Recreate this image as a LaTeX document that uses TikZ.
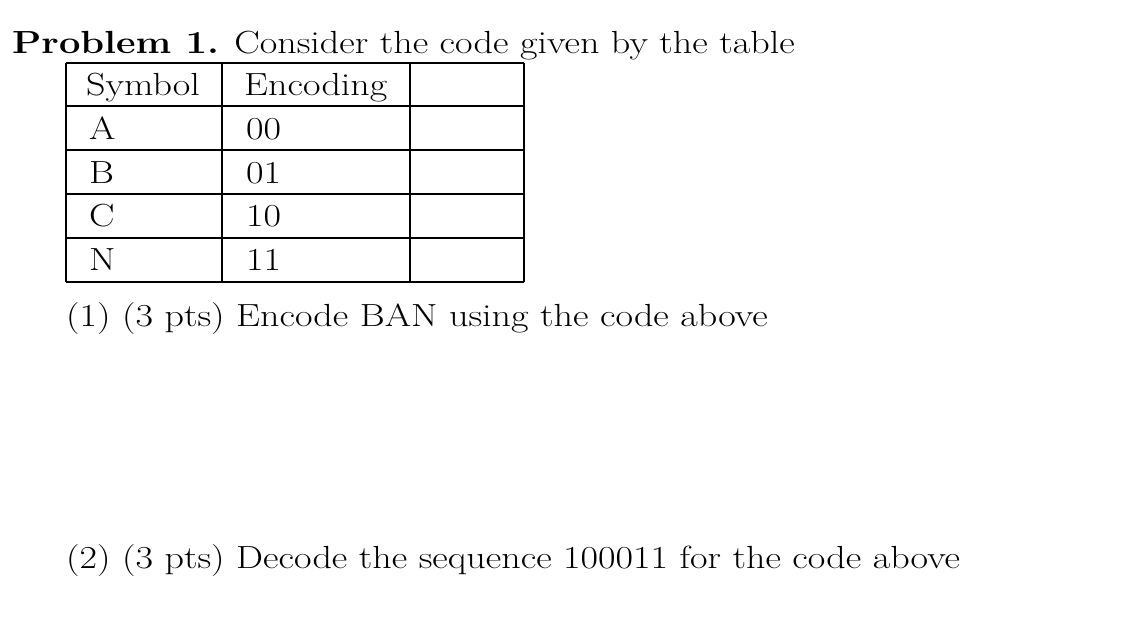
\documentclass[tikz,border=0pt]{standalone}
\usepackage{graphicx}
\newcommand{\widetxt}[1]{\scalebox{1.19}[1]{#1}}
\begin{document}
\begin{tikzpicture}[x=1pt,y=-1pt,
  txt/.style={anchor=base west,inner sep=0pt,font=\fontsize{32}{36}\selectfont},
  rule/.style={line width=1.1pt}]
\useasboundingbox (0,0) rectangle (1124,616);
\node[txt] (title) at (12,53) {\widetxt{\textbf{Problem 1.} Consider the code given by the table}};
% table lines
\foreach \y in {63,106,150,194,238,282} \draw[rule] (66,\y) -- (524,\y);
\foreach \x in {66,222,410,524} \draw[rule] (\x,63) -- (\x,282);
\node[txt] (h1) at (86,95) {\widetxt{Symbol}};
\node[txt] (h2) at (244,95) {\widetxt{Encoding}};
\node[txt] (a1) at (89,139) {\widetxt{A}};
\node[txt] (a2) at (246,139) {\widetxt{00}};
\node[txt] (b1) at (89,183) {\widetxt{B}};
\node[txt] (b2) at (246,183) {\widetxt{01}};
\node[txt] (c1) at (89,226) {\widetxt{C}};
\node[txt] (c2) at (246,226) {\widetxt{10}};
\node[txt] (n1) at (89,270) {\widetxt{N}};
\node[txt] (n2) at (246,270) {\widetxt{11}};
\node[txt] (q1) at (66,326) {\widetxt{(1) (3 pts) Encode BAN using the code above}};
\node[txt] (q2) at (66,568) {\widetxt{(2) (3 pts) Decode the sequence 100011 for the code above}};
\end{tikzpicture}
\end{document}
